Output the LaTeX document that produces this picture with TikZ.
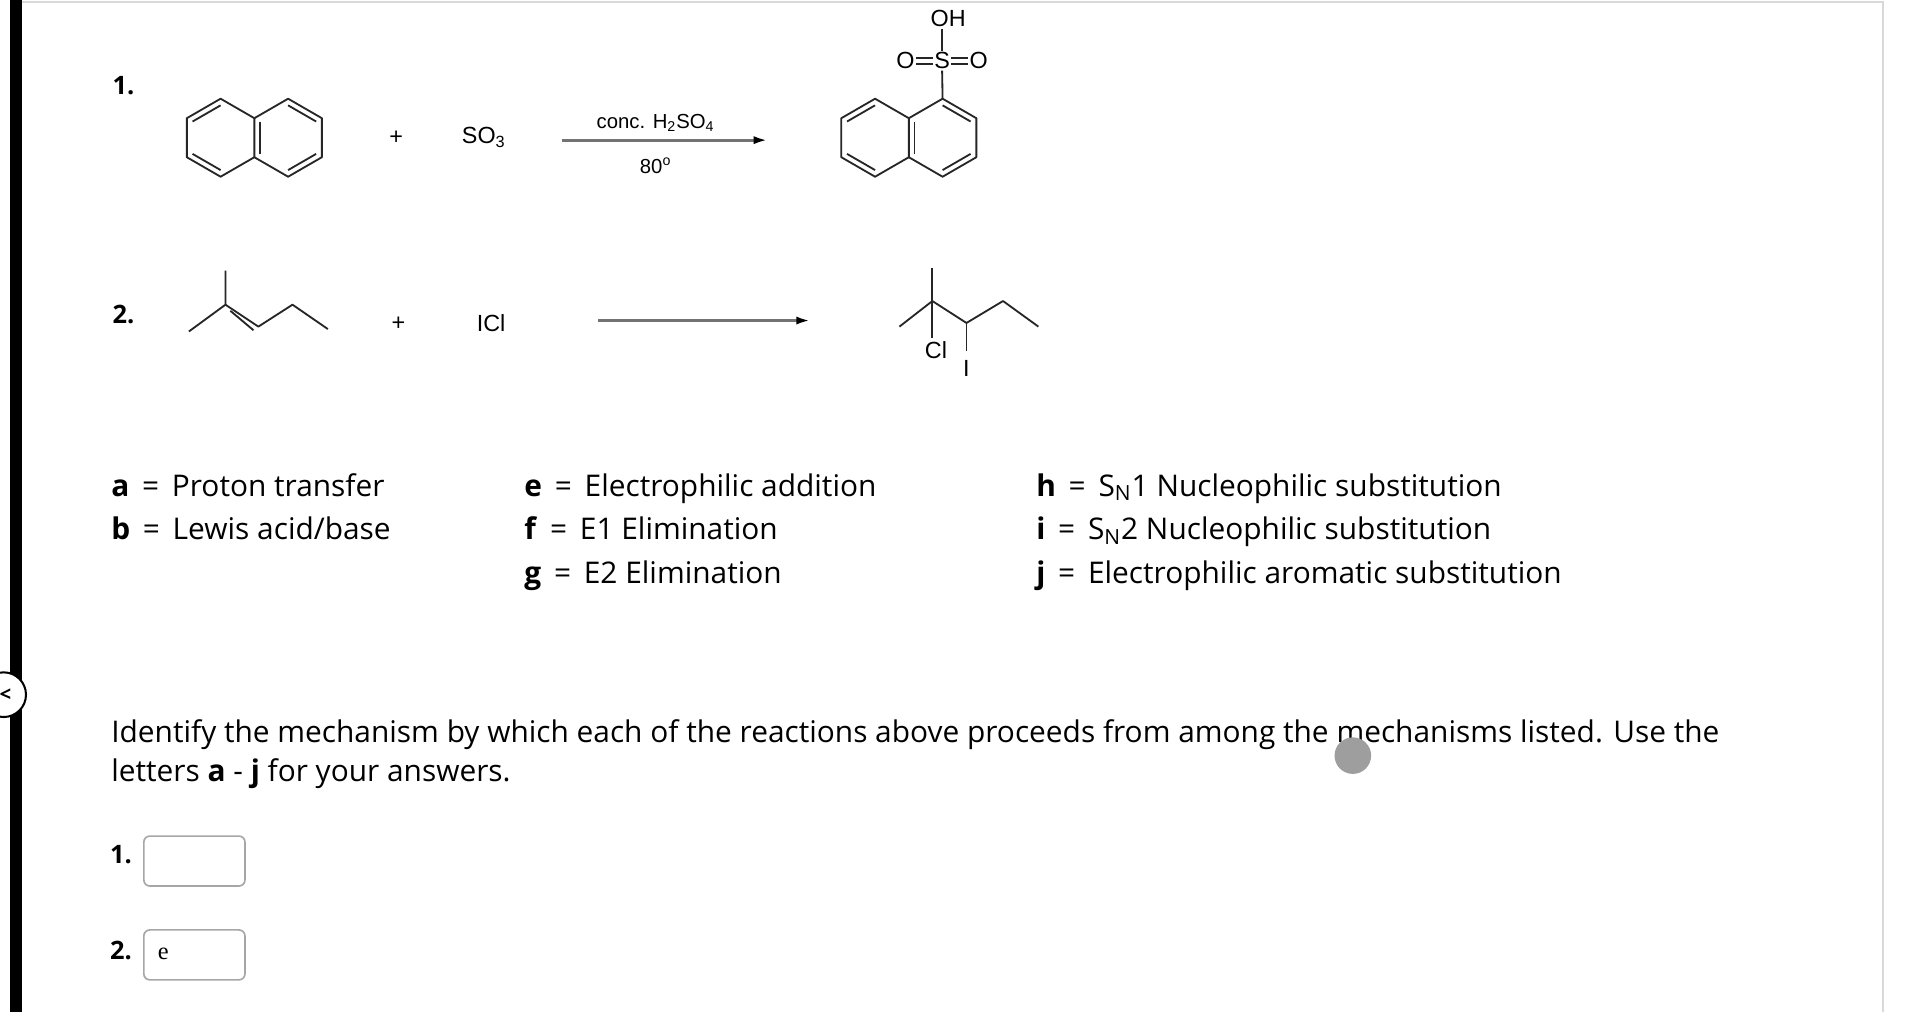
\documentclass[tikz,border=0pt]{standalone}
\usepackage{fontspec}
\setmainfont{Open Sans}
\newfontfamily\chem{Liberation Sans}
\usetikzlibrary{calc,arrows.meta}
\begin{document}
\begin{tikzpicture}[x=0.6pt,y=-0.6pt,
  bond/.style={line width=0.9pt,black!85},
  rxnarrow/.style={line width=1.4pt,black!55,-{Latex[length=7pt,width=4pt,black]}},
  chemlbl/.style={font=\chem\fontsize{11.5}{13}\selectfont,inner sep=0.5pt},
  smalllbl/.style={font=\chem\fontsize{10}{12}\selectfont,inner sep=1pt},
  numlbl/.style={font=\fontsize{12.5}{14}\selectfont\bfseries,anchor=west,inner sep=0},
  txt/.style={font=\fontsize{14.7}{17}\selectfont,anchor=base west,inner sep=0},
  ansbox/.style={draw=black!35,line width=0.8pt,rounded corners=3pt}]
\useasboundingbox (0,0) rectangle (1568,830);
\fill[white] (0,0) rectangle (1568,830);
% frame
\fill[black] (8,0) rectangle (18,830);
\draw[black!15,line width=1pt] (18,2) -- (1545,2) -- (1545,830);
\node[circle,draw=black,line width=1pt,fill=white,minimum size=22pt,inner sep=0,font=\bfseries] (back) at (3,570) {\,<};
% ---- reaction 1
\node[numlbl] (n1) at (92,70) {1.};
\newcommand\naph[1]{%
 \begin{scope}[shift={(#1,0)}]
 \coordinate (c1) at (181,113); \coordinate (c2) at (236.4,113);
 \coordinate (a1) at (181,81); \coordinate (a2) at (208.7,97); \coordinate (a3) at (208.7,129);
 \coordinate (a4) at (181,145); \coordinate (a5) at (153.3,129); \coordinate (a6) at (153.3,97);
 \coordinate (b1) at (236.4,81); \coordinate (b2) at (264.1,97); \coordinate (b3) at (264.1,129);
 \coordinate (b4) at (236.4,145);
 \draw[bond,line join=round] (a2)--(a1)--(a6)--(a5)--(a4)--(a3)--cycle;
 \draw[bond,line join=round] (a2)--(b1)--(b2)--(b3)--(b4)--(a3);
 \draw[bond] ($(a1)!0.17!(c1)$)--($(a6)!0.17!(c1)$);
 \draw[bond] ($(a5)!0.17!(c1)$)--($(a4)!0.17!(c1)$);
 \draw[bond] ($(a2)!0.17!(c2)$)--($(a3)!0.17!(c2)$);
 \draw[bond] ($(b1)!0.17!(c2)$)--($(b2)!0.17!(c2)$);
 \draw[bond] ($(b3)!0.17!(c2)$)--($(b4)!0.17!(c2)$);
 \end{scope}}
\naph{0}
\node[chemlbl] (p1) at (325,113) {+};
\node[chemlbl] (so3) at (397,113) {SO$_{\mbox{\chem\fontsize{8}{9}\selectfont 3}}$};
\coordinate (r1s) at (461,115); \coordinate (r1e) at (630,115);
\draw[rxnarrow] (r1s) -- (r1e);
\node[smalllbl] (cond1) at (538,101) {conc. H$_{\mbox{\chem\fontsize{7}{8}\selectfont 2}}$SO$_{\mbox{\chem\fontsize{7}{8}\selectfont 4}}$};
\node[smalllbl] (cond2) at (538,136) {80\textsuperscript{o}};
\naph{537}
\node[chemlbl] (S) at (773,50) {S};
\node[chemlbl] (O1) at (743,50) {O};
\node[chemlbl] (O2) at (803,50) {O};
\node[chemlbl] (OH) at (778,15) {OH};
\draw[bond] (773.4,81) -- (S.south);
\draw[bond] (S.north) -- (773,24);
\draw[bond] ($(O1.east)+(0,-2.5)$) -- ($(S.west)+(0,-2.5)$);
\draw[bond] ($(O1.east)+(0,2.5)$) -- ($(S.west)+(0,2.5)$);
\draw[bond] ($(S.east)+(0,-2.5)$) -- ($(O2.west)+(0,-2.5)$);
\draw[bond] ($(S.east)+(0,2.5)$) -- ($(O2.west)+(0,2.5)$);
% ---- reaction 2
\node[numlbl] (n2) at (92,258) {2.};
\coordinate (m1) at (185,222); \coordinate (k2) at (185,250); \coordinate (k1) at (155,272);
\coordinate (k3) at (212,268); \coordinate (k4) at (240,250); \coordinate (k5) at (269,270);
\draw[bond,line join=round] (m1)--(k2)--(k1);
\draw[bond,line join=round] (k2)--(k3)--(k4)--(k5);
\draw[bond] ($(k2)+(4,5)$) -- ($(k3)+(-4,3)$);
\node[chemlbl] (p2) at (327,266) {+};
\node[chemlbl] (icl) at (403,265) {ICl};
\coordinate (r2s) at (491,263); \coordinate (r2e) at (665,263);
\draw[rxnarrow] (r2s) -- (r2e);
\coordinate (q1) at (765,220); \coordinate (q2) at (765,247); \coordinate (q0) at (738,268);
\coordinate (q3) at (793,265); \coordinate (q4) at (823,247); \coordinate (q5) at (852,268);
\node[chemlbl] (cl) at (768,287) {Cl};
\node[chemlbl] (iod) at (793,302) {I};
\draw[bond,line join=round] (q0)--(q2)--(q3)--(q4)--(q5);
\draw[bond] (q1)--(q2)--(765,277);
\draw[bond] (q3)--(793,288);
% ---- mechanisms
\node[txt] (ma) at (91,407) {\textbf{a} \,=\, Proton transfer};
\node[txt] (mb) at (91,443) {\textbf{b} \,=\, Lewis acid/base};
\node[txt] (me) at (430,407) {\textbf{e} \,=\, Electrophilic addition};
\node[txt] (mf) at (430,443) {\textbf{f} \,=\, E1 Elimination};
\node[txt] (mg) at (430,479) {\textbf{g} \,=\, E2 Elimination};
\node[txt] (mh) at (850,407) {\textbf{h} \,=\, S\textsubscript{N}1 Nucleophilic substitution};
\node[txt] (mi) at (850,443) {\textbf{i} \,=\, S\textsubscript{N}2 Nucleophilic substitution};
\node[txt] (mj) at (850,479) {\textbf{j} \,=\, Electrophilic aromatic substitution};
% ---- question
\node[txt] (q) at (91,609) {Identify the mechanism by which each of the reactions above proceeds from among the mechanisms listed. Use the};
\node[txt] (q2l) at (91,641) {letters \textbf{a} - \textbf{j} for your answers.};
\fill[black!38] (1110,620) circle (15) node (dot) {};
% ---- answers
\node[numlbl] (an1) at (90,701) {1.};
\draw[ansbox] (118,686) rectangle (201,727) node[midway] (box1) {};
\node[numlbl] (an2) at (90,780) {2.};
\draw[ansbox] (118,763) rectangle (201,804) node[midway] (box2) {};
\node[font=\fontspec{Liberation Serif}\fontsize{12}{14}\selectfont] (ans2) at (134,783) {e};
\end{tikzpicture}
\end{document}
